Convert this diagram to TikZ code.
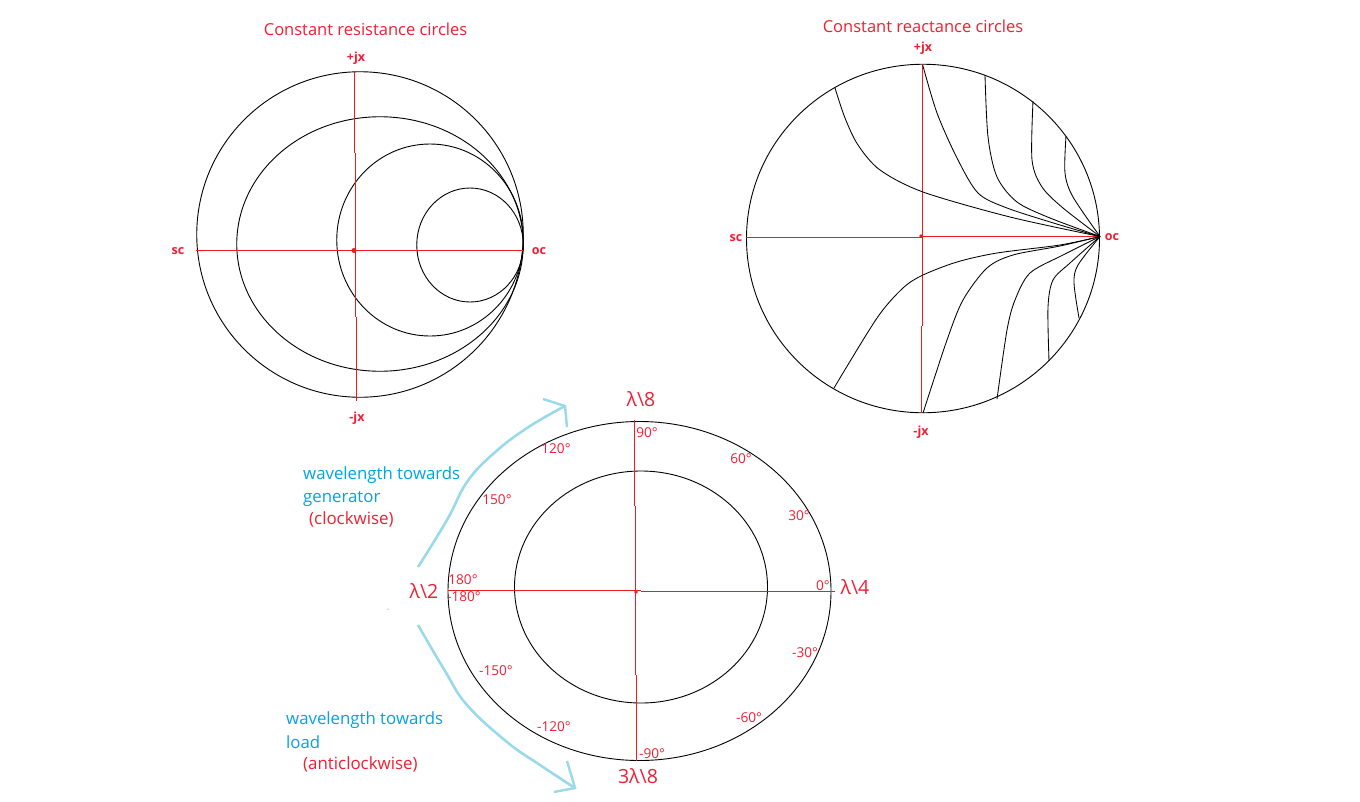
\documentclass[tikz,border=0pt]{standalone}
\usepackage{fontspec}
\setmainfont{Open Sans}
\usetikzlibrary{shapes.geometric}
\definecolor{lbl}{HTML}{F01E32}
\definecolor{axisred}{HTML}{ED1C24}
\definecolor{skyb}{HTML}{00A2E8}
\definecolor{arrowb}{HTML}{99D9EA}
\newcommand{\fs}[1]{\fontsize{#1}{#1}\selectfont}
\tikzset{
  x=1pt,y=-1pt,
  ring/.style={draw=black,line width=0.9pt,ellipse,inner sep=0,outer sep=0},
  axis/.style={draw=axisred,line width=1pt},
  curve/.style={draw=black,line width=0.85pt,smooth,tension=0.5},
  sweep/.style={draw=arrowb,line width=2.6pt,smooth,tension=0.7},
  sweeptip/.style={draw=arrowb,line width=2.4pt},
  title/.style={text=lbl,inner sep=0,font=\fs{16.5}},
  port/.style={text=lbl,inner sep=0,font=\fs{12.5}\bfseries},
  big/.style={text=lbl,inner sep=0,font=\fs{19.5}},
  ang/.style={text=lbl,inner sep=0,font=\fs{13.6}},
  bluetxt/.style={text=skyb,inner sep=0,anchor=west,font=\fs{16.8}},
  redtxt/.style={text=lbl,inner sep=0,anchor=west,font=\fs{16.9}},
}
\begin{document}
\begin{tikzpicture}
\useasboundingbox (0,0) rectangle (1360,801);
% --- resistance chart
\node[ring,minimum width=326.5pt,minimum height=325.5pt] (r1) at (360,234.5) {};
\node[ring,minimum width=286.5pt,minimum height=254.5pt] (r2) at (380,244) {};
\node[ring,minimum width=186.5pt,minimum height=192pt] (r3) at (430,240) {};
\node[ring,minimum width=106.5pt,minimum height=114pt] (r4) at (470,245) {};
\coordinate (rt) at (354.5,71); \coordinate (rb) at (356.5,401);
\coordinate (rm1) at (354.5,153); \coordinate (rm2) at (355.5,153);
\coordinate (rm3) at (355.5,317); \coordinate (rm4) at (356.5,317);
\coordinate (rl) at (196,250.5); \coordinate (rr) at (523,250.5);
\coordinate (rc) at (354,250.5);
\draw[axis] (rt) -- (rm1);
\draw[axis] (rm2) -- (rm3);
\draw[axis] (rm4) -- (rb);
\draw[axis] (rl) -- (rr);
\fill[axisred] (rc) circle (2.5);
\node[title] (t1) at (365.5,29) {Constant resistance circles};
\node[port] (p1) at (356,58.5) {+jx};
\node[port] (p2) at (357,418) {-jx};
\node[port] (p3) at (178,251) {sc};
\node[port] (p4) at (539,251) {oc};
% --- reactance chart
\node[ring,minimum width=353pt,minimum height=348.5pt] (x1) at (923,238.5) {};
\coordinate (oc) at (1100,236.5);
\coordinate (xt) at (922.5,64); \coordinate (xb) at (921.5,412.5);
\coordinate (xm1) at (922.5,326); \coordinate (xm2) at (921.5,326);
\coordinate (xl) at (746,237.5); \coordinate (xl2) at (922,237.5);
\coordinate (xr2) at (922,236.5); \coordinate (xc) at (921,236);
\draw[axis] (xt) -- (xm1);
\draw[axis] (xm2) -- (xb);
\draw[axis] (xl) -- (xl2);
\draw[axis] (xr2) -- (oc);
\fill[axisred] (xc) circle (1.8);
\draw[curve] plot coordinates {(835,88) (845,118) (858,145) (880,170) (923,192) (1010,217) (oc)};
\draw[curve] plot coordinates {(922.7,65) (937,113) (957,158) (978,193) (1007,208) (1060,225) (oc)};
\draw[curve] plot coordinates {(985,75) (988,137) (997,177) (1017,202) (1050,218) (oc)};
\draw[curve] plot coordinates {(1033,101) (1032,160) (1042,187) (1063,208) (oc)};
\draw[curve] plot coordinates {(1066,136) (1065,173) (1073,197) (oc)};
\draw[curve] plot coordinates {(834,388) (877,318) (903,288) (923,275) (957,262) (997,253) (1060,245) (oc)};
\draw[curve] plot coordinates {(923,413) (947,340) (963,300) (987,268) (1013,255) (1060,246) (oc)};
\draw[curve] plot coordinates {(997,399) (1007,330) (1015,300) (1030,273) (1063,255) (oc)};
\draw[curve] plot coordinates {(1049,361) (1048,307) (1053,280) (1070,263) (oc)};
\draw[curve] plot coordinates {(1079,318) (1074,283) (1078,265) (oc)};
\node[title] (t2) at (923,26) {Constant reactance circles};
\node[port] (p5) at (923,48.5) {+jx};
\node[port] (p6) at (921,432) {-jx};
\node[port] (p7) at (736,238) {sc};
\node[port] (p8) at (1112,237) {oc};
% --- wavelength chart
\node[ring,minimum width=383pt,minimum height=339pt] (w1) at (639.5,591) {};
\node[ring,minimum width=253pt,minimum height=232pt] (w2) at (641,587) {};
\coordinate (wt) at (634.5,420); \coordinate (wb) at (636.5,761);
\coordinate (wm1) at (634.5,506); \coordinate (wm2) at (635.5,506);
\coordinate (wm3) at (635.5,675); \coordinate (wm4) at (636.5,675);
\coordinate (wl) at (448,590.5); \coordinate (wl2) at (641,590.5);
\coordinate (wr2) at (641,591.5); \coordinate (wr) at (835,591.5);
\coordinate (wc) at (636,592);
\draw[axis] (wt) -- (wm1);
\draw[axis] (wm2) -- (wm3);
\draw[axis] (wm4) -- (wb);
\draw[axis] (wl) -- (wl2);
\draw[axis] (wr2) -- (wr);
\fill[axisred] (wc) circle (1.8);
\node[big] (l1) at (641,399) {λ\textbackslash 8};
\node[big] (l2) at (855,587) {λ\textbackslash 4};
\node[big] (l3) at (424,591) {λ\textbackslash 2};
\node[big] (l4) at (638,776) {3λ\textbackslash 8};
\node[ang] (a1) at (647,433) {90°};
\node[ang] (a2) at (741,459) {60°};
\node[ang] (a3) at (799,516) {30°};
\node[ang] (a4) at (823,586) {0°};
\node[ang] (a5) at (805,653) {-30°};
\node[ang] (a6) at (749,718) {-60°};
\node[ang] (a7) at (652,754) {-90°};
\node[ang] (a8) at (554,727) {-120°};
\node[ang] (a9) at (496,671) {-150°};
\node[ang] (a10) at (464,597) {-180°};
\node[ang] (a11) at (463,580) {180°};
\node[ang] (a12) at (497,500) {150°};
\node[ang] (a13) at (556,449) {120°};
\node[bluetxt] (b1) at (303,475.5) {wavelength towards};
\node[bluetxt] (b2) at (303,498.5) {generator};
\node[redtxt] (c1) at (309,519) {(clockwise)};
\node[bluetxt] (b3) at (286,720.5) {wavelength towards};
\node[bluetxt] (b4) at (286,742) {load};
\node[redtxt] (c2) at (303,764) {(anticlockwise)};
% --- direction arrows
\coordinate (g0) at (418,567); \coordinate (g1) at (565,406);
\coordinate (g2) at (543,399); \coordinate (g3) at (567,427);
\draw[sweep] plot coordinates {(g0) (447,520) (467,482) (493,454) (527,428) (g1)};
\draw[sweeptip] (g2) -- (g1) -- (g3);
\coordinate (h0) at (418,625); \coordinate (h1) at (575,788);
\coordinate (h2) at (567,761); \coordinate (h3) at (554,792);
\draw[sweep] plot coordinates {(h0) (445,671) (467,705) (507,742) (540,765) (h1)};
\draw[sweeptip] (h2) -- (h1) -- (h3);
\fill[axisred] (388,609) circle (0.5);
\end{tikzpicture}
\end{document}
